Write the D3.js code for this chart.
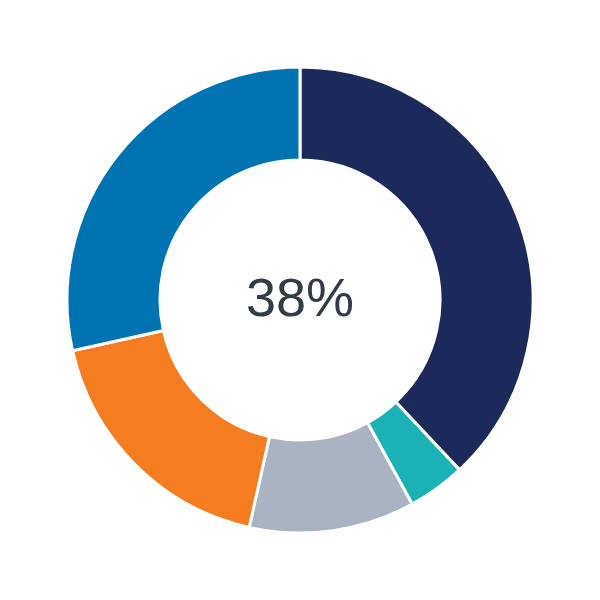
<!DOCTYPE html>
<html><head><meta charset="utf-8">
<script src="https://cdn.jsdelivr.net/npm/d3@7"></script>
<style>html,body{margin:0;padding:0;background:#fff;}</style>
</head><body>
<svg id="chart" width="600" height="600"></svg>
<script>
const categories = ["A", "B", "C", "D", "E"];
const values = [38, 4, 11.5, 18, 28.5];
const colors = ["#1b2a5b", "#1ab2b6", "#a9b3c2", "#f37d20", "#0073b2"];
const centerLabel = "38%";

const svg = d3.select("#chart");
const g = svg.append("g").attr("transform", "translate(300,300)");
const pie = d3.pie().sort(null).value(d => d.v);
const arc = d3.arc().innerRadius(140).outerRadius(233);
const data = categories.map((c, i) => ({c, v: values[i]}));
g.selectAll("path").data(pie(data)).enter().append("path")
  .attr("d", arc)
  .attr("fill", (d, i) => colors[i])
  .attr("stroke", "#fff")
  .attr("stroke-width", 3);
g.append("text").attr("text-anchor", "middle").attr("y", 16)
  .attr("font-family", "Liberation Sans, Arial, sans-serif")
  .attr("font-size", 54).attr("fill", "#333b47").text(centerLabel);
</script>
</body></html>
